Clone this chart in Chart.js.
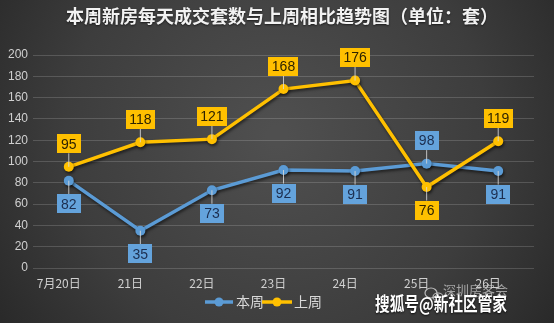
<!DOCTYPE html>
<html>
<head>
<meta charset="utf-8">
<script src="https://cdn.jsdelivr.net/npm/chart.js@4.4.0/dist/chart.umd.min.js"></script>
<style>
html,body{margin:0;padding:0;background:#333;}
#wrap{width:554px;height:323px;position:relative;}
</style>
</head>
<body>
<div id="wrap"><canvas id="c" width="554" height="323"></canvas></div>
<script>
const categories = ['7月20日', '21日', '22日', '23日', '24日', '25日', '26日'];
const thisWeek = [82, 35, 73, 92, 91, 98, 91];
const lastWeek = [95, 118, 121, 168, 176, 76, 119];
const yMin = 0, yMax = 200, yStep = 20;
const titleText = '本周新房每天成交套数与上周相比趋势图（单位：套）';
const seriesNames = ['本周', '上周'];
const watermark = '搜狐号@新社区管家';
const watermarkSmall = '深圳房客会';

const BLUE = '#5b9bd5', YELLOW = '#ffc000';
const CJK = '"Noto Sans CJK SC", "Noto Sans", sans-serif';

const bgPlugin = {
  id: 'bg',
  beforeDraw(chart) {
    const ctx = chart.ctx, w = chart.width, h = chart.height;
    ctx.save();
    const g = ctx.createRadialGradient(w * 0.5, h * 0.42, 10, w * 0.5, h * 0.42, w * 0.62);
    g.addColorStop(0, '#4f4f4f');
    g.addColorStop(0.6, '#3d3d3d');
    g.addColorStop(1, '#282828');
    ctx.fillStyle = g;
    ctx.fillRect(0, 0, w, h);
    ctx.restore();
  }
};

const shadowPlugin = {
  id: 'lineShadow',
  beforeDatasetDraw(chart) {
    const ctx = chart.ctx;
    ctx.save();
    ctx.shadowColor = 'rgba(0,0,0,0.55)';
    ctx.shadowBlur = 3;
    ctx.shadowOffsetX = 1;
    ctx.shadowOffsetY = 2;
  },
  afterDatasetDraw(chart) {
    chart.ctx.restore();
  }
};

const labelPlugin = {
  id: 'boxLabels',
  afterDatasetsDraw(chart) {
    const ctx = chart.ctx;
    const metaB = chart.getDatasetMeta(0), metaY = chart.getDatasetMeta(1);
    const styles = [
      {fill: '#64a3dc', text: '#1c2e4f'},
      {fill: '#ffc000', text: '#2e2300'}
    ];
    ctx.save();
    ctx.font = '14px "Liberation Sans", Arial, sans-serif';
    ctx.textAlign = 'center';
    ctx.textBaseline = 'middle';
    for (let i = 0; i < categories.length; i++) {
      const vals = [thisWeek[i], lastWeek[i]];
      [metaB, metaY].forEach((meta, d) => {
        const pt = meta.data[i];
        const other = vals[1 - d];
        const above = vals[d] >= other;
        const off = 23;
        const cx = pt.x, cy = above ? pt.y - off : pt.y + off;
        const txt = String(vals[d]);
        const bw = Math.max(24, ctx.measureText(txt).width + 7), bh = 19;
        ctx.strokeStyle = 'rgba(215,215,215,0.85)';
        ctx.lineWidth = 1;
        ctx.beginPath();
        ctx.moveTo(pt.x, pt.y);
        ctx.lineTo(cx, above ? cy + bh / 2 : cy - bh / 2);
        ctx.stroke();
        ctx.fillStyle = styles[d].fill;
        ctx.fillRect(Math.round(cx - bw / 2), Math.round(cy - bh / 2), Math.round(bw), bh);
        ctx.fillStyle = styles[d].text;
        ctx.fillText(txt, cx, cy + 1);
      });
    }
    ctx.restore();
  }
};

const decorPlugin = {
  id: 'decor',
  afterDraw(chart) {
    const ctx = chart.ctx;
    ctx.save();
    ctx.font = 'bold 18px ' + CJK;
    ctx.textAlign = 'center';
    ctx.textBaseline = 'middle';
    ctx.shadowColor = 'rgba(0,0,0,0.6)';
    ctx.shadowBlur = 2;
    ctx.shadowOffsetY = 1;
    ctx.fillStyle = '#f2f2f2';
    ctx.fillText(titleText, 282, 16);
    ctx.shadowColor = 'transparent';

    const ly = 302;
    const items = [
      {x0: 205, x1: 233, color: BLUE, name: seriesNames[0], tx: 236},
      {x0: 262, x1: 292, color: YELLOW, name: seriesNames[1], tx: 294}
    ];
    ctx.textAlign = 'left';
    ctx.font = '14px ' + CJK;
    items.forEach(it => {
      ctx.strokeStyle = it.color;
      ctx.lineWidth = 3.5;
      ctx.beginPath();
      ctx.moveTo(it.x0, ly);
      ctx.lineTo(it.x1, ly);
      ctx.stroke();
      ctx.fillStyle = it.color;
      ctx.beginPath();
      ctx.arc((it.x0 + it.x1) / 2, ly, 4.5, 0, Math.PI * 2);
      ctx.fill();
      ctx.fillStyle = '#d9d9d9';
      ctx.fillText(it.name, it.tx, ly);
    });

    ctx.font = '13px ' + CJK;
    ctx.fillStyle = 'rgba(200,200,200,0.75)';
    ctx.fillText(watermarkSmall, 443, 290);
    ctx.strokeStyle = 'rgba(220,220,220,0.8)';
    ctx.lineWidth = 1.2;
    ctx.beginPath(); ctx.ellipse(431, 293, 6, 5, 0, 0, Math.PI * 2); ctx.stroke();
    ctx.beginPath(); ctx.ellipse(438, 297, 5, 4, 0, 0, Math.PI * 2); ctx.stroke();

    ctx.font = 'bold 18px ' + CJK;
    const w = ctx.measureText(watermark).width;
    const target = 132;
    ctx.translate(375, 304);
    ctx.scale(target / w, 1.05);
    ctx.shadowColor = 'rgba(0,0,0,0.8)';
    ctx.shadowBlur = 2;
    ctx.fillStyle = '#ffffff';
    ctx.fillText(watermark, 0, 0);
    ctx.restore();
  }
};

new Chart(document.getElementById('c'), {
  type: 'line',
  data: {
    labels: categories,
    datasets: [
      {
        label: seriesNames[0], data: thisWeek, borderColor: BLUE, backgroundColor: BLUE,
        borderWidth: 3.5, pointRadius: 5, pointHoverRadius: 5, pointBorderWidth: 0,
        tension: 0, order: 2
      },
      {
        label: seriesNames[1], data: lastWeek, borderColor: YELLOW, backgroundColor: YELLOW,
        borderWidth: 3.5, pointRadius: 5, pointHoverRadius: 5, pointBorderWidth: 0,
        tension: 0, order: 1
      }
    ]
  },
  options: {
    responsive: false,
    animation: false,
    events: [],
    layout: {padding: {top: 55, right: 20, bottom: 0, left: 0}},
    plugins: {legend: {display: false}, title: {display: false}, tooltip: {enabled: false}},
    scales: {
      x: {
        offset: true,
        grid: {display: false, drawTicks: false},
        border: {display: false},
        ticks: {color: '#d0d0d0', font: {size: 12, family: CJK}, padding: 8, labelOffset: -10, maxRotation: 0},
        afterFit(s) { s.height = 55; }
      },
      y: {
        min: yMin, max: yMax,
        grid: {color: 'rgba(255,255,255,0.16)', lineWidth: 1, drawTicks: false},
        border: {display: false},
        ticks: {stepSize: yStep, color: '#d0d0d0', font: {size: 12, family: '"Liberation Sans", Arial, sans-serif'}, padding: 5},
        afterFit(s) { s.width = 33; }
      }
    }
  },
  plugins: [bgPlugin, shadowPlugin, labelPlugin, decorPlugin]
});
</script>
</body>
</html>
